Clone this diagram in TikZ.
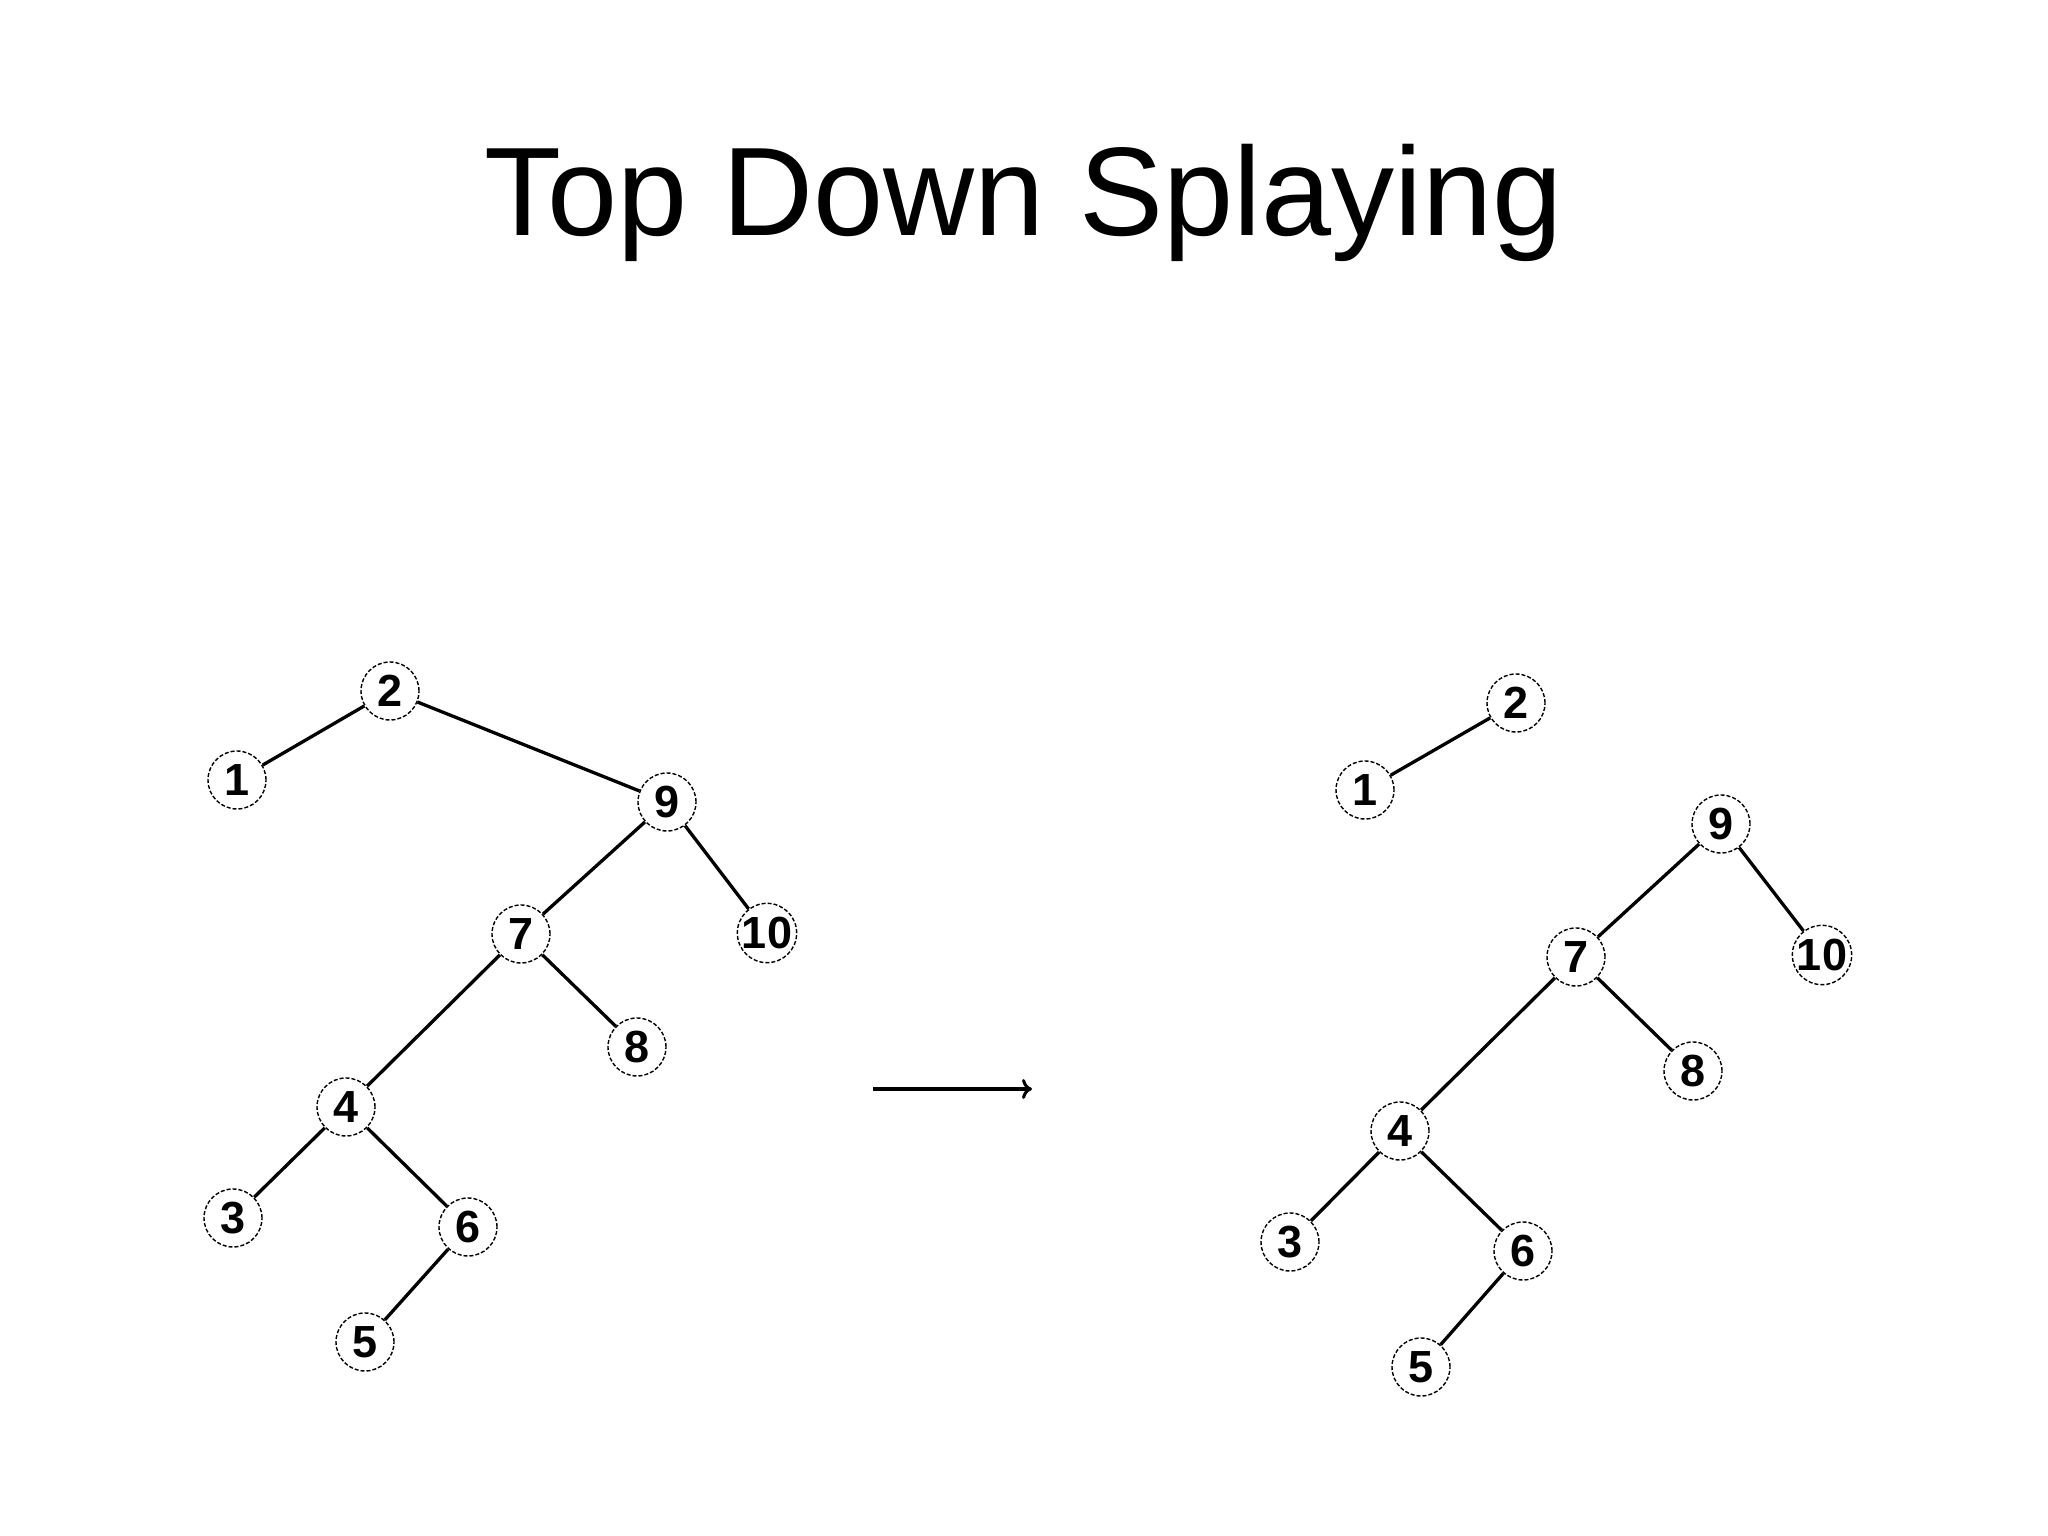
\documentclass[tikz,border=0pt]{standalone}
\usepackage{fontspec}
\setmainfont{Liberation Sans}
\usetikzlibrary{arrows.meta}
\begin{document}
\begin{tikzpicture}[x=1pt,y=-1pt,
  tn/.style={circle,draw,line width=1.4pt,dash pattern=on 4pt off 2pt,minimum size=58pt,inner sep=0pt,font=\fontsize{45}{45}\selectfont\bfseries},
  ed/.style={line width=3.3pt}]
\useasboundingbox (0,0) rectangle (2048,1536);
\node[font=\fontsize{126}{126}\selectfont] (title) at (1024,203) {Top Down Splaying};
% left tree
\node[tn] (a2) at (390,691) {2};
\node[tn] (a1) at (237,780) {1};
\node[tn] (a9) at (667,802) {9};
\node[tn] (a7) at (521,934) {7};
\node[tn] (a10) at (767,933) {10};
\node[tn] (a8) at (637,1047) {8};
\node[tn] (a4) at (346,1107) {4};
\node[tn] (a3) at (233,1218) {3};
\node[tn] (a6) at (468,1227) {6};
\node[tn] (a5) at (365,1342) {5};
\draw[ed] (a2) -- (a1);
\draw[ed] (a2) -- (a9);
\draw[ed] (a9) -- (a7);
\draw[ed] (a9) -- (a10);
\draw[ed] (a7) -- (a8);
\draw[ed] (a7) -- (a4);
\draw[ed] (a4) -- (a3);
\draw[ed] (a4) -- (a6);
\draw[ed] (a6) -- (a5);
% arrow
\coordinate (s) at (873,1089);
\coordinate (t) at (1032,1089);
\draw[line width=3.5pt,-{To[length=10pt,width=20pt,line width=3pt]}] (s) -- (t);
% right tree
\node[tn] (b2) at (1516,703) {2};
\node[tn] (b1) at (1365,790) {1};
\node[tn] (b9) at (1721,824) {9};
\node[tn] (b7) at (1576,957) {7};
\node[tn] (b10) at (1822,955) {10};
\node[tn] (b8) at (1693,1071) {8};
\node[tn] (b4) at (1400,1131) {4};
\node[tn] (b3) at (1290,1242) {3};
\node[tn] (b6) at (1523,1251) {6};
\node[tn] (b5) at (1421,1367) {5};
\draw[ed] (b2) -- (b1);
\draw[ed] (b9) -- (b7);
\draw[ed] (b9) -- (b10);
\draw[ed] (b7) -- (b8);
\draw[ed] (b7) -- (b4);
\draw[ed] (b4) -- (b3);
\draw[ed] (b4) -- (b6);
\draw[ed] (b6) -- (b5);
\end{tikzpicture}
\end{document}
